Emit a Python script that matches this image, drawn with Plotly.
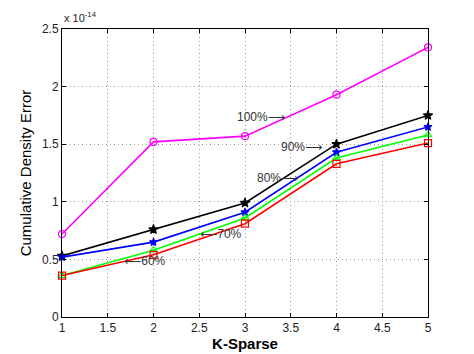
import plotly.graph_objects as go

k = [1, 2, 3, 4, 5]
p100 = [0.72, 1.52, 1.57, 1.93, 2.34]
p90 = [0.53, 0.76, 0.99, 1.50, 1.75]
p80 = [0.52, 0.65, 0.91, 1.43, 1.65]
p70 = [0.36, 0.58, 0.86, 1.38, 1.58]
p60 = [0.36, 0.54, 0.81, 1.33, 1.51]

xticks = [1, 1.5, 2, 2.5, 3, 3.5, 4, 4.5, 5]
yticks = [0, 0.5, 1, 1.5, 2, 2.5]

fig = go.Figure()
series = [
    (p100, "#ff00ff", "circle-open", 7),
    (p90, "#000000", "star", 7),
    (p80, "#0000ff", "star", 6),
    (p70, "#00ff00", "triangle-up-open", 7),
    (p60, "#ff0000", "square-open", 7),
]
for ys, c, m, s in series:
    fig.add_trace(go.Scatter(x=k, y=ys, mode="lines+markers",
                             line=dict(color=c, width=1.6),
                             marker=dict(symbol=m, size=s, color=c, line=dict(color=c, width=1.2)),
                             showlegend=False, cliponaxis=False))

ARR_R = "<span style='font-family:DejaVu Sans'>\u27f6</span>"
ARR_L = "<span style='font-family:DejaVu Sans'>\u27f5</span>"
ann = [
    (3.17, 1.74, "100%" + ARR_R),
    (3.62, 1.48, "90%" + ARR_R),
    (3.35, 1.21, "80%" + ARR_R),
    (2.74, 0.72, ARR_L + "70%"),
    (1.91, 0.49, ARR_L + "60%"),
]
for x, y, t in ann:
    fig.add_annotation(x=x, y=y, text=t, showarrow=False, xref="x", yref="y",
                       font=dict(family="Liberation Sans, Arial", size=12, color="#333"))

fig.add_annotation(x=0, y=1, xref="paper", yref="paper", xanchor="left", yanchor="bottom",
                   text="x 10<sup>-14</sup>", showarrow=False, yshift=3,
                   font=dict(family="Liberation Sans, Arial", size=11, color="#222"))

axis_common = dict(showline=True, linecolor="#000", linewidth=1, mirror="ticks",
                   ticks="inside", ticklen=4, tickcolor="#000",
                   showgrid=True, gridcolor="#999", griddash="1px,3px", gridwidth=1,
                   zeroline=False, automargin=False,
                   tickfont=dict(family="Liberation Sans, Arial", size=12, color="#222"))

fig.update_layout(
    width=474, height=354,
    margin=dict(l=62, r=46, t=29, b=37),
    paper_bgcolor="white", plot_bgcolor="white",
    xaxis=dict(range=[1, 5], tickvals=xticks, ticktext=[str(v) for v in xticks],
               title=dict(text="<b>K-Sparse</b>", standoff=2,
                          font=dict(family="Liberation Sans, Arial", size=15, color="#000")),
               **axis_common),
    yaxis=dict(range=[0, 2.5], tickvals=yticks, ticktext=[str(v) for v in yticks],
               title=dict(text="Cumulative Density Error", standoff=6,
                          font=dict(family="Liberation Sans, Arial", size=15, color="#000")),
               **axis_common),
)

fig.write_html("out.html")
